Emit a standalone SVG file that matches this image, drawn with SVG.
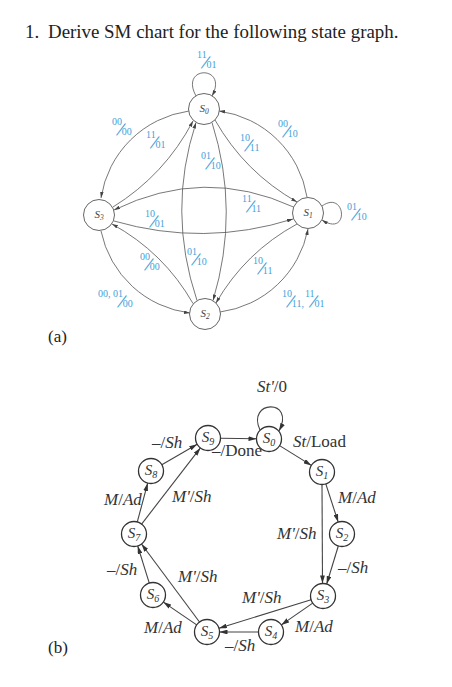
<svg xmlns="http://www.w3.org/2000/svg" width="452" height="687" viewBox="0 0 452 687">
<style>
.t{font-family:"Liberation Serif","Times New Roman",serif;font-size:18.9px;fill:#222}
.cap{font-family:"Liberation Serif","Times New Roman",serif;font-size:17px;fill:#222}
.na circle{fill:#fff;stroke:#555;stroke-width:0.9}
.na text{font-family:"Liberation Serif",serif;font-style:italic;font-size:11px;fill:#444;text-anchor:middle}
.sub{font-size:7.5px}
.ea path{fill:none;stroke:#555;stroke-width:0.8}
.fr{font-family:"Liberation Serif",serif;font-size:10px;fill:#3f9fd8}
.sl{font-size:21px}
.nb circle{fill:#fff;stroke:#333;stroke-width:1.3}
.nb text{font-family:"Liberation Serif",serif;font-style:italic;font-size:15px;fill:#333;text-anchor:middle}
.subb{font-size:10px}
.eb path{fill:none;stroke:#444;stroke-width:1.1}
.lb{font-family:"Liberation Serif",serif;font-size:17px;fill:#333}
.i{font-style:italic}
</style>
<defs>
<marker id="ma" viewBox="0 0 10 6" refX="10" refY="3" markerWidth="6" markerHeight="3.6" markerUnits="userSpaceOnUse" orient="auto"><path d="M0,0 L10,3 L0,6 z" fill="#444"/></marker>
<marker id="mb" viewBox="0 0 10 6" refX="10" refY="3" markerWidth="8" markerHeight="4.8" markerUnits="userSpaceOnUse" orient="auto"><path d="M0,0 L10,3 L0,6 z" fill="#333"/></marker>
</defs>
<rect width="452" height="687" fill="#fff"/>
<text class="t" x="25" y="38">1.</text>
<text class="t" x="48" y="38">Derive SM chart for the following state graph.</text>

<g id="edges-a" class="ea">
<path d="M196,96 C179,65 229,65 212,96" marker-end="url(#ma)"/>
<path d="M189,111 A103.5,103.5 0 0 0 101,198" marker-end="url(#ma)"/>
<path d="M113,207 Q164.6,175 193,121" marker-end="url(#ma)"/>
<path d="M197,300.5 Q167,211 196,122.5" marker-end="url(#ma)"/>
<path d="M212,122.5 Q240,211 213,300.5" marker-end="url(#ma)"/>
<path d="M215,120 Q244.6,172.2 297,202" marker-end="url(#ma)"/>
<path d="M307,197 A103.5,103.5 0 0 0 219,111" marker-end="url(#ma)"/>
<path d="M293.5,207 Q204,166 114,210" marker-end="url(#ma)"/>
<path d="M114,221 Q204,247 293,219" marker-end="url(#ma)"/>
<path d="M322,206 C346,189 350,238 322,220" marker-end="url(#ma)"/>
<path d="M193,303.5 Q163.8,252.4 112,224" marker-end="url(#ma)"/>
<path d="M297,224 Q245.1,252.3 216,303" marker-end="url(#ma)"/>
<path d="M101,231 A103.5,103.5 0 0 0 190,313" marker-end="url(#ma)"/>
<path d="M220,312 A103.5,103.5 0 0 0 308,229" marker-end="url(#ma)"/>
<text class="fr" x="197" y="58">11<tspan class="sl" dx="-6" dy="10" rotate="18">/</tspan><tspan>01</tspan></text>
<text class="fr" x="112" y="125">00<tspan class="sl" dx="-6" dy="10" rotate="18">/</tspan><tspan>00</tspan></text>
<text class="fr" x="146" y="138">11<tspan class="sl" dx="-6" dy="10" rotate="18">/</tspan><tspan>01</tspan></text>
<text class="fr" x="201" y="159">01<tspan class="sl" dx="-6" dy="10" rotate="18">/</tspan><tspan>10</tspan></text>
<text class="fr" x="240" y="141">10<tspan class="sl" dx="-6" dy="10" rotate="18">/</tspan><tspan>11</tspan></text>
<text class="fr" x="278" y="127">00<tspan class="sl" dx="-6" dy="10" rotate="18">/</tspan><tspan>10</tspan></text>
<text class="fr" x="242" y="202">11<tspan class="sl" dx="-6" dy="10" rotate="18">/</tspan><tspan>11</tspan></text>
<text class="fr" x="347" y="210">01<tspan class="sl" dx="-6" dy="10" rotate="18">/</tspan><tspan>10</tspan></text>
<text class="fr" x="145" y="217">10<tspan class="sl" dx="-6" dy="10" rotate="18">/</tspan><tspan>01</tspan></text>
<text class="fr" x="140" y="260">00<tspan class="sl" dx="-6" dy="10" rotate="18">/</tspan><tspan>00</tspan></text>
<text class="fr" x="187" y="255">01<tspan class="sl" dx="-6" dy="10" rotate="18">/</tspan><tspan>10</tspan></text>
<text class="fr" x="253" y="264">10<tspan class="sl" dx="-6" dy="10" rotate="18">/</tspan><tspan>11</tspan></text>
<text class="fr" x="98" y="297">00, 01<tspan class="sl" dx="-6" dy="10" rotate="18">/</tspan><tspan>00</tspan></text>
<text class="fr" x="282" y="297">10<tspan class="sl" dx="-6" dy="10" rotate="18">/</tspan><tspan>11,</tspan><tspan dx="1" dy="-10">11</tspan><tspan class="sl" dx="-6" dy="10" rotate="18">/</tspan><tspan>01</tspan></text>
</g>

<g id="a-s0" class="na"><circle cx="204" cy="109" r="15.5"/><text x="204" y="112">S<tspan class="sub" dy="2">0</tspan></text></g>
<g id="a-s1" class="na"><circle cx="308" cy="213" r="15.5"/><text x="308" y="216">S<tspan class="sub" dy="2">1</tspan></text></g>
<g id="a-s2" class="na"><circle cx="205" cy="314" r="15.5"/><text x="205" y="317">S<tspan class="sub" dy="2">2</tspan></text></g>
<g id="a-s3" class="na"><circle cx="99" cy="215" r="15.5"/><text x="99" y="218">S<tspan class="sub" dy="2">3</tspan></text></g>

<text class="cap" x="48" y="342">(a)</text>

<g id="edges-b" class="eb">
<path d="M260,430 C246,400 296,398 279,431" marker-end="url(#mb)"/>
<path d="M220.5,438.2 L256.5,438.8" marker-end="url(#mb)"/>
<path d="M279.6,445.6 L311.4,465.4" marker-end="url(#mb)"/>
<path d="M161.8,464.7 L197.2,444.3" marker-end="url(#mb)"/>
<path d="M325.8,483.9 L338.2,522.1" marker-end="url(#mb)"/>
<path d="M322,484.5 L322.5,583.5" marker-end="url(#mb)"/>
<path d="M338.3,546 L326.7,584" marker-end="url(#mb)"/>
<path d="M311.1,599.7 L218.9,628.3" marker-end="url(#mb)"/>
<path d="M312.7,603.1 L281.3,624.9" marker-end="url(#mb)"/>
<path d="M258.5,632 L219.5,632" marker-end="url(#mb)"/>
<path d="M196.7,624.9 L163.3,602.1" marker-end="url(#mb)"/>
<path d="M199.5,622 L141.5,544" marker-end="url(#mb)"/>
<path d="M149.3,583.1 L137.7,546" marker-end="url(#mb)"/>
<path d="M137.3,521.9 L147.7,483.1" marker-end="url(#mb)"/>
<path d="M141.6,524.1 L200.4,447.9" marker-end="url(#mb)"/>
<text class="lb" x="257" y="392"><tspan class="i">St'</tspan>/0</text>
<text class="lb" x="152" y="448">–/<tspan class="i">Sh</tspan></text>
<text class="lb" x="212" y="456">–/Done</text>
<text class="lb" x="293" y="447"><tspan class="i">St</tspan>/Load</text>
<text class="lb" x="338" y="503"><tspan class="i">M</tspan>/<tspan class="i">Ad</tspan></text>
<text class="lb" x="104" y="505"><tspan class="i">M</tspan>/<tspan class="i">Ad</tspan></text>
<text class="lb" x="172" y="502"><tspan class="i">M'</tspan>/<tspan class="i">Sh</tspan></text>
<text class="lb" x="277" y="539"><tspan class="i">M'</tspan>/<tspan class="i">Sh</tspan></text>
<text class="lb" x="338" y="573">–/<tspan class="i">Sh</tspan></text>
<text class="lb" x="107" y="575">–/<tspan class="i">Sh</tspan></text>
<text class="lb" x="178" y="582"><tspan class="i">M'</tspan>/<tspan class="i">Sh</tspan></text>
<text class="lb" x="242" y="603"><tspan class="i">M'</tspan>/<tspan class="i">Sh</tspan></text>
<text class="lb" x="295" y="632"><tspan class="i">M</tspan>/<tspan class="i">Ad</tspan></text>
<text class="lb" x="144" y="633"><tspan class="i">M</tspan>/<tspan class="i">Ad</tspan></text>
<text class="lb" x="225" y="651">–/<tspan class="i">Sh</tspan></text>
</g>

<g id="b-s0" class="nb"><circle cx="269" cy="439" r="12.5"/><text x="269" y="443">S<tspan class="subb" dy="3">0</tspan></text></g>
<g id="b-s1" class="nb"><circle cx="322" cy="472" r="12.5"/><text x="322" y="476">S<tspan class="subb" dy="3">1</tspan></text></g>
<g id="b-s2" class="nb"><circle cx="342" cy="534" r="12.5"/><text x="342" y="538">S<tspan class="subb" dy="3">2</tspan></text></g>
<g id="b-s3" class="nb"><circle cx="323" cy="596" r="12.5"/><text x="323" y="600">S<tspan class="subb" dy="3">3</tspan></text></g>
<g id="b-s4" class="nb"><circle cx="271" cy="632" r="12.5"/><text x="271" y="636">S<tspan class="subb" dy="3">4</tspan></text></g>
<g id="b-s5" class="nb"><circle cx="207" cy="632" r="12.5"/><text x="207" y="636">S<tspan class="subb" dy="3">5</tspan></text></g>
<g id="b-s6" class="nb"><circle cx="153" cy="595" r="12.5"/><text x="153" y="599">S<tspan class="subb" dy="3">6</tspan></text></g>
<g id="b-s7" class="nb"><circle cx="134" cy="534" r="12.5"/><text x="134" y="538">S<tspan class="subb" dy="3">7</tspan></text></g>
<g id="b-s8" class="nb"><circle cx="151" cy="471" r="12.5"/><text x="151" y="475">S<tspan class="subb" dy="3">8</tspan></text></g>
<g id="b-s9" class="nb"><circle cx="208" cy="438" r="12.5"/><text x="208" y="442">S<tspan class="subb" dy="3">9</tspan></text></g>

<text class="cap" x="48" y="653">(b)</text>
</svg>
